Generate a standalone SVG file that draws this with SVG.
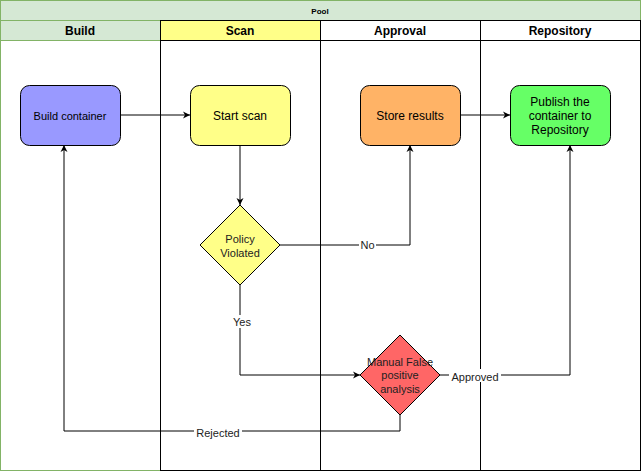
<svg xmlns="http://www.w3.org/2000/svg" width="641" height="471" viewBox="0 0 641 471">
<style>
text{font-family:"Liberation Sans",Arial,sans-serif;fill:#000;text-anchor:middle}
.h{font-size:12px;font-weight:bold}
.n{font-size:12px}
.lab{font-size:11px;fill:#222}
.c{fill:none;stroke:#000;stroke-width:1}
.lb{fill:#fff}
</style>
<defs><marker id="a" markerWidth="8" markerHeight="8" refX="7" refY="4" orient="auto" markerUnits="userSpaceOnUse"><path d="M0,0.5 L7,4 L0,7.5 L2,4 z" fill="#000"/></marker></defs>
<g id="pool">
<rect x="0.5" y="0.5" width="640" height="470" fill="#fff" stroke="#82b366"/>
<rect x="0.5" y="0.5" width="640" height="20" fill="#d5e8d4" stroke="#82b366"/>
<text x="320" y="14" style="font-size:8px;font-weight:bold">Pool</text>
</g>
<g id="lane-build"><rect x="0.5" y="20.5" width="160" height="20" fill="#d5e8d4" stroke="#82b366"/><text class="h" x="80" y="35">Build</text></g>
<g id="lane-scan"><rect x="160.5" y="40.5" width="160" height="430" fill="none" stroke="#000"/><rect x="160.5" y="20.5" width="160" height="20" fill="#ffff88" stroke="#000"/><text class="h" x="240" y="35">Scan</text></g>
<g id="lane-approval"><rect x="320.5" y="40.5" width="160" height="430" fill="none" stroke="#000"/><rect x="320.5" y="20.5" width="160" height="20" fill="#fff" stroke="#000"/><text class="h" x="400" y="35">Approval</text></g>
<g id="lane-repo"><rect x="480.5" y="40.5" width="160" height="430" fill="none" stroke="#000"/><rect x="480.5" y="20.5" width="160" height="20" fill="#fff" stroke="#000"/><text class="h" x="560" y="35">Repository</text></g>
<g id="connectors">
<path class="c" d="M120,115 H190" marker-end="url(#a)"/>
<path class="c" d="M240,145 V205" marker-end="url(#a)"/>
<path class="c" d="M280,245 H410 V145" marker-end="url(#a)"/>
<path class="c" d="M240,285 V375 H360" marker-end="url(#a)"/>
<path class="c" d="M440,375 H570 V145" marker-end="url(#a)"/>
<path class="c" d="M400,415 V431 H64 V145" marker-end="url(#a)"/>
<path class="c" d="M460,115 H510" marker-end="url(#a)"/>
<rect class="lb" x="359" y="238" width="17" height="13"/><text class="lab" x="367.5" y="249">No</text>
<rect class="lb" x="231" y="315" width="22" height="13"/><text class="lab" x="242" y="326">Yes</text>
<rect class="lb" x="449" y="369" width="52" height="13"/><text class="lab" x="475" y="381">Approved</text>
<rect class="lb" x="194" y="426" width="48" height="13"/><text class="lab" x="218" y="437">Rejected</text>
</g>
<g id="build-container"><rect x="20.5" y="85.5" width="100" height="60" rx="9" fill="#9999ff" stroke="#000"/><text class="n" x="70" y="120" style="font-size:11px">Build container</text></g>
<g id="start-scan"><rect x="190.5" y="85.5" width="100" height="60" rx="9" fill="#ffff88" stroke="#000"/><text class="n" x="240" y="120">Start scan</text></g>
<g id="store-results"><rect x="360.5" y="85.5" width="100" height="60" rx="9" fill="#ffb366" stroke="#000"/><text class="n" x="410" y="120">Store results</text></g>
<g id="publish"><rect x="510.5" y="85.5" width="100" height="60" rx="9" fill="#66ff66" stroke="#000"/><text class="n" x="560" y="106">Publish the</text><text class="n" x="560" y="120">container to</text><text class="n" x="560" y="134">Repository</text></g>
<g id="policy"><path d="M240,205 L280,245 L240,285 L200,245 Z" fill="#ffff88" stroke="#000"/><text class="lab" x="240" y="243">Policy</text><text class="lab" x="240" y="257">Violated</text></g>
<g id="manual"><path d="M400,335 L440,375 L400,415 L360,375 Z" fill="#ff6666" stroke="#000"/><text class="lab" x="400" y="366">Manual False</text><text class="lab" x="400" y="379">positive</text><text class="lab" x="400" y="393">analysis</text></g>
</svg>
